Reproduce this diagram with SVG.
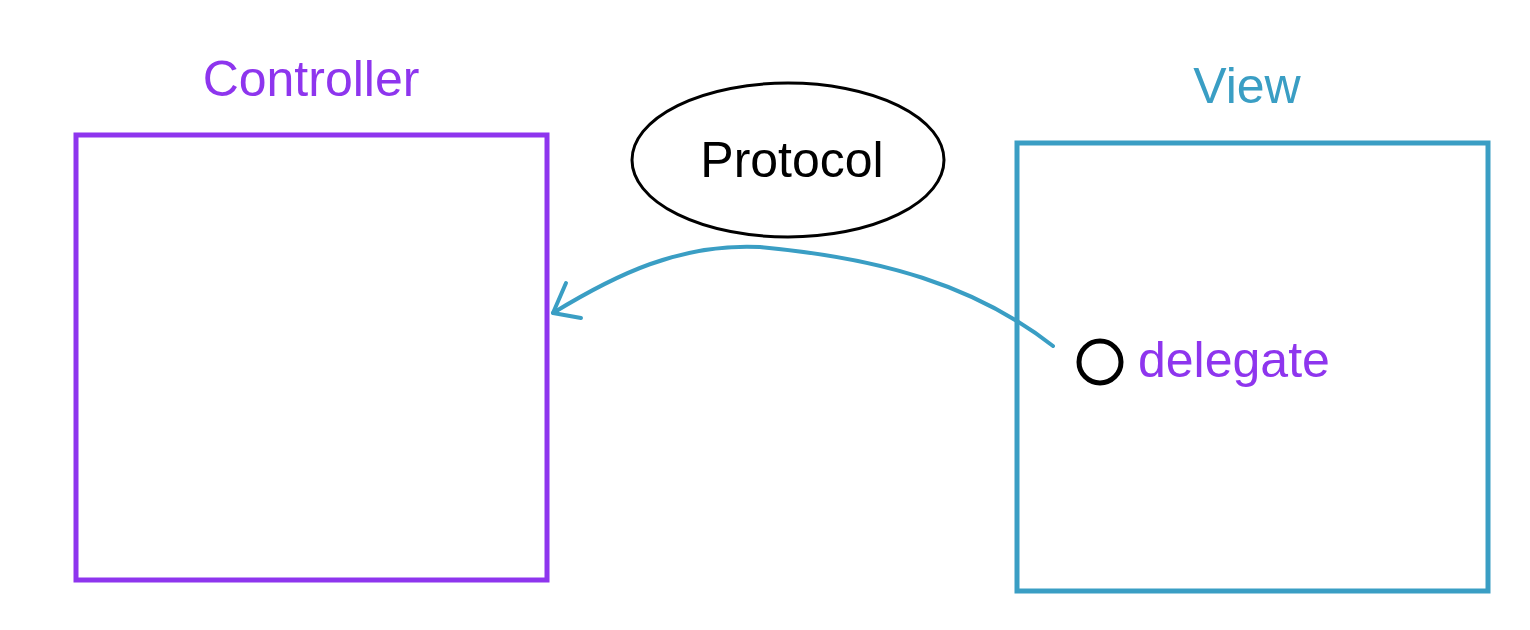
<svg xmlns="http://www.w3.org/2000/svg" width="1530" height="630" viewBox="0 0 1530 630">
<style>
.lbl{font-family:"Liberation Sans",Arial,sans-serif;font-size:50px}
.purple{fill:#8e35ee}
.teal{fill:#3a9ec4}
</style>
<rect width="1530" height="630" fill="#ffffff"/>
<g id="controller">
<rect x="76" y="135" width="471" height="445" fill="none" stroke="#8e35ee" stroke-width="5"/>
<text class="lbl purple" x="311" y="96" text-anchor="middle">Controller</text>
</g>
<g id="view">
<rect x="1017" y="143" width="471" height="448" fill="none" stroke="#3a9ec4" stroke-width="5"/>
<text class="lbl teal" x="1247" y="103" text-anchor="middle">View</text>
<circle cx="1100" cy="362" r="21" fill="none" stroke="#000" stroke-width="5"/>
<text class="lbl purple" x="1138" y="377">delegate</text>
</g>
<g id="protocol">
<ellipse cx="788" cy="160" rx="156" ry="77" fill="#fff" stroke="#000" stroke-width="3"/>
<text class="lbl" x="792" y="177" text-anchor="middle" fill="#000">Protocol</text>
</g>
<g id="connectors" fill="none" stroke="#3a9ec4" stroke-width="4" stroke-linecap="round" stroke-linejoin="round">
<path d="M1053,346 C975,285 880,258 760,247 C680,243 615,275 553,313"/>
<path d="M566,283 L553,313 L581,318"/>
</g>
</svg>
